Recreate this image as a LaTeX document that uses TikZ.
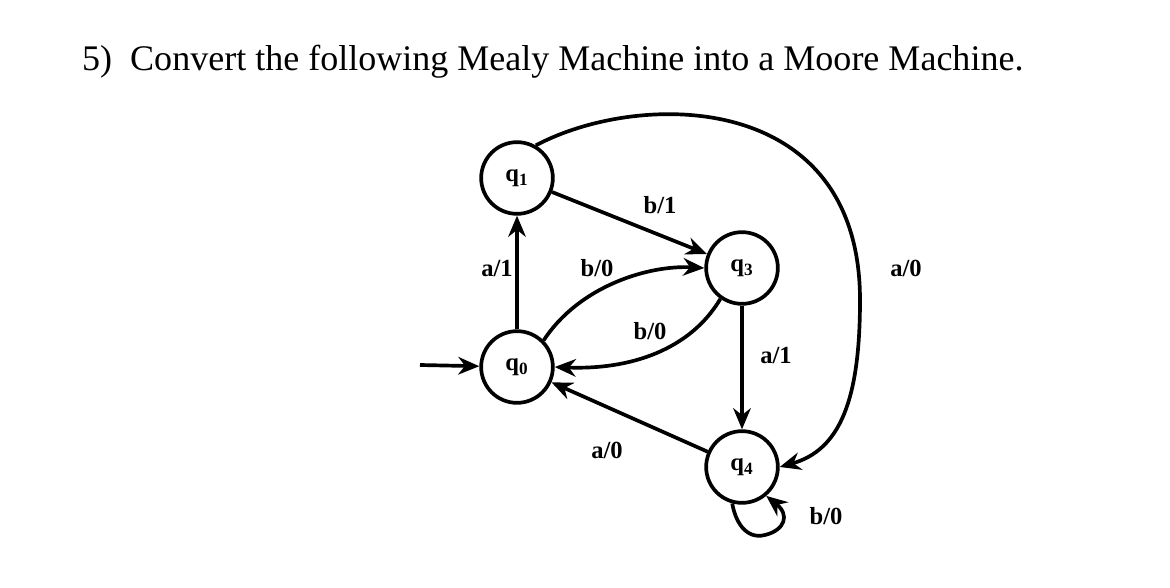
\documentclass[tikz,border=0pt]{standalone}
\usepackage{fontspec}
\setmainfont{Liberation Serif}
\usetikzlibrary{arrows.meta}
\begin{document}
\begin{tikzpicture}[x=0.02cm,y=-0.02cm,
  st/.style={circle,draw,line width=2.1pt,minimum size=40.8pt,inner sep=0pt,font=\fontsize{14}{16}\selectfont\bfseries},
  ed/.style={line width=2.1pt,-{Stealth[length=12pt,width=10pt]}},
  lb/.style={font=\fontsize{14}{16}\selectfont\bfseries}]
\useasboundingbox (0,0) rectangle (1170,588);
\node[anchor=base west,font=\fontsize{20.5}{24}\selectfont] (title) at (76,71) {5)\ \ Convert the following Mealy Machine into a Moore Machine.};
\node[st] (q1) at (517,178) {q\textsubscript{1}};
\node[st] (q3) at (742,268) {q\textsubscript{3}};
\node[st] (q0) at (517,367) {q\textsubscript{0}};
\node[st] (q4) at (742,467) {q\textsubscript{4}};
\coordinate (s) at (420,365);
\draw[ed] (s) -- (q0);
\draw[ed] (q0) -- (q1);
\draw[ed] (q1) -- (q3);
\draw[ed] (q0.45) .. controls (580,285) and (650,265) .. (q3.west);
\draw[ed] (q3.235) .. controls (690,350) and (630,370) .. (q0.east);
\draw[ed] (q3) -- (q4);
\draw[ed] (q4) -- (q0);
\draw[ed] (q1.60) .. controls (640,90) and (860,90) .. (860,300) .. controls (860,400) and (840,450) .. (q4.east);
\draw[ed] (q4.255) .. controls (735,520) and (745,540) .. (765,535) .. controls (785,530) and (790,515) .. (q4.310);
\node[lb] (l1) at (497,268) {a/1};
\node[lb] (l2) at (660,205) {b/1};
\node[lb] (l3) at (597,268) {b/0};
\node[lb] (l4) at (650,331) {b/0};
\node[lb] (l5) at (776,355) {a/1};
\node[lb] (l6) at (607,450) {a/0};
\node[lb] (l7) at (906,268) {a/0};
\node[lb] (l8) at (826,516) {b/0};
\end{tikzpicture}
\end{document}
